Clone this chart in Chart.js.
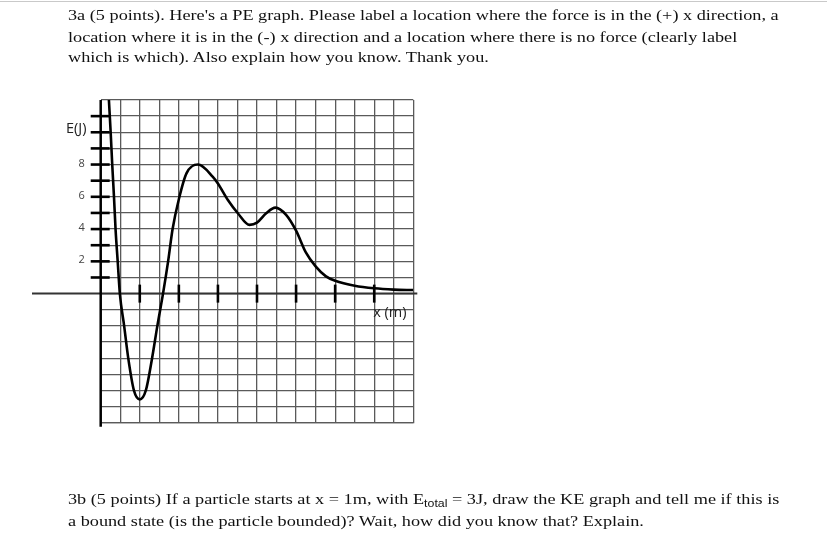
<!DOCTYPE html>
<html>
<head>
<meta charset="utf-8">
<script src="https://cdn.jsdelivr.net/npm/chart.js"></script>
<style>
  html, body { margin: 0; padding: 0; background: #fff; }
  body { width: 827px; height: 552px; position: relative; overflow: hidden; }
  #topRule { position: absolute; left: 0; top: 1px; width: 827px; height: 1px; background: #c9c9c9; }
  #peChart { position: absolute; left: 0; top: 0; }
  .q { position: absolute; left: 68px; white-space: nowrap; font-family: "Liberation Serif", "Times New Roman", serif;
       font-size: 15.5px; line-height: 20px; color: #111; transform-origin: 0 0; }
  .q sub { font-family: "Liberation Sans", Arial, sans-serif; font-size: 10.5px; vertical-align: -3px; line-height: 0; }
</style>
</head>
<body>
<div id="topRule"></div>
<canvas id="peChart" width="827" height="552"></canvas>

<div class="q fit" style="top:5px">3a (5 points). Here's a PE graph. Please label a location where the force is in the (+) x direction, a</div>
<div class="q" style="top:26.5px">location where it is in the (-) x direction and a location where there is no force (clearly label</div>
<div class="q" style="top:47px">which is which). Also explain how you know. Thank you.</div>
<div class="q fit" style="top:489px">3b (5 points) If a particle starts at x = 1m, with E<sub>total</sub> = 3J, draw the KE graph and tell me if this is</div>
<div class="q" style="top:511px">a bound state (is the particle bounded)? Wait, how did you know that? Explain.</div>

<script>
// PE CURVE (x in m, E in J)
const xValues = [0.42, 0.51, 0.59, 0.68, 0.76, 0.87, 0.98, 1.2, 1.41, 1.7, 2.0, 2.31, 2.63, 2.9, 3.19, 3.45, 3.68,
  4.0, 4.39, 4.98, 5.74, 6.0, 6.51, 7.02, 7.62, 8.0, 8.47, 8.94, 9.49, 10.0, 10.5, 11.0, 11.53, 12, 13, 14, 15, 16];
const peValues = [12, 10, 8, 6, 4, 2, 0, -2, -4, -6, -6.56, -6, -4, -2, 0, 2, 4,
  5.85, 7.45, 8.0, 7.24, 6.83, 5.8, 4.98, 4.26, 4.4, 4.98, 5.33, 4.88, 3.9, 2.55, 1.69, 1.07, 0.8, 0.49, 0.33, 0.25, 0.22];

const xTickValues = [2, 4, 6, 8, 10, 12, 14];
const yTickValues = [1, 2, 3, 4, 5, 6, 7, 8, 9, 10, 11];
const yTickLabels = ['2', '4', '6', '8'];
const yTitle = 'E(J)';
const xTitle = 'x (m)';

// axes drawn by hand on top of the grid, like the worksheet
const worksheetAxes = {
  id: 'worksheetAxes',
  beforeDatasetsDraw(chart) {
    const ctx = chart.ctx;
    const xs = chart.scales.x;
    const ys = chart.scales.y;
    const y0 = ys.getPixelForValue(0);
    const left = xs.getPixelForValue(0);
    ctx.save();

    // x axis
    ctx.strokeStyle = '#333';
    ctx.lineWidth = 2;
    ctx.beginPath();
    ctx.moveTo(32, y0);
    ctx.lineTo(xs.right + 4, y0);
    ctx.stroke();

    // y axis
    ctx.strokeStyle = '#000';
    ctx.lineWidth = 2.5;
    ctx.beginPath();
    ctx.moveTo(left, ys.top);
    ctx.lineTo(left, ys.bottom + 4);
    ctx.stroke();

    // tick marks
    ctx.lineWidth = 2.6;
    yTickValues.forEach(v => {
      const py = ys.getPixelForValue(v);
      ctx.beginPath();
      ctx.moveTo(left - 10, py);
      ctx.lineTo(left + 9, py);
      ctx.stroke();
    });
    xTickValues.forEach(v => {
      const px = xs.getPixelForValue(v);
      ctx.beginPath();
      ctx.moveTo(px, y0 - 9);
      ctx.lineTo(px, y0 + 9);
      ctx.stroke();
    });

    // tick labels
    ctx.fillStyle = '#444';
    ctx.font = '11px "Open Sans", sans-serif';
    ctx.textAlign = 'right';
    ctx.textBaseline = 'middle';
    yTickLabels.forEach(t => {
      ctx.fillText(t, left - 16, ys.getPixelForValue(Number(t)) - 1);
    });

    // axis titles
    ctx.fillStyle = '#222';
    ctx.font = '14.5px "Open Sans", sans-serif';
    ctx.textAlign = 'left';
    ctx.textBaseline = 'alphabetic';
    ctx.fillText(yTitle, 66, ys.getPixelForValue(10) + 1);
    ctx.fillText(xTitle, xs.getPixelForValue(14) - 1, y0 + 23);
    ctx.restore();
  }
};

const data = {
  datasets: [{
    data: xValues.map((x, i) => ({ x: x, y: peValues[i] })),
    borderColor: '#000',
    borderWidth: 2.6,
    pointRadius: 0,
    fill: false,
    cubicInterpolationMode: 'monotone',
  }]
};

const config = {
  type: 'line',
  data: data,
  options: {
    responsive: false,
    animation: false,
    layout: {
      padding: { left: 100.7, top: 100, right: 413.7, bottom: 129.3 }
    },
    plugins: {
      legend: { display: false },
      tooltip: { enabled: false },
    },
    scales: {
      x: {
        type: 'linear',
        min: 0,
        max: 16,
        afterFit: (s) => { s.height = 0; },
        ticks: { display: false, stepSize: 1 },
        grid: { color: '#5a5a5a', lineWidth: 1.3, drawTicks: false },
        border: { color: '#5a5a5a', width: 1.3 },
      },
      y: {
        min: -8,
        max: 12,
        afterFit: (s) => { s.width = 0; },
        ticks: { display: false, stepSize: 1 },
        grid: { color: '#5a5a5a', lineWidth: 1.3, drawTicks: false },
        border: { display: false },
      }
    }
  },
  plugins: [worksheetAxes]
};

const myPeChart = new Chart(document.getElementById('peChart'), config);

// the scan is a bit wider than the font: one stretch for all lines,
// taken from the two full-width lines
const lines = document.querySelectorAll('.q');
const full = document.querySelectorAll('.q.fit');
let k = 0;
full.forEach(el => { k += 711 / el.getBoundingClientRect().width; });
k = k / full.length;
lines.forEach(el => { el.style.transform = 'scaleX(' + k + ')'; });
</script>
</body>
</html>
